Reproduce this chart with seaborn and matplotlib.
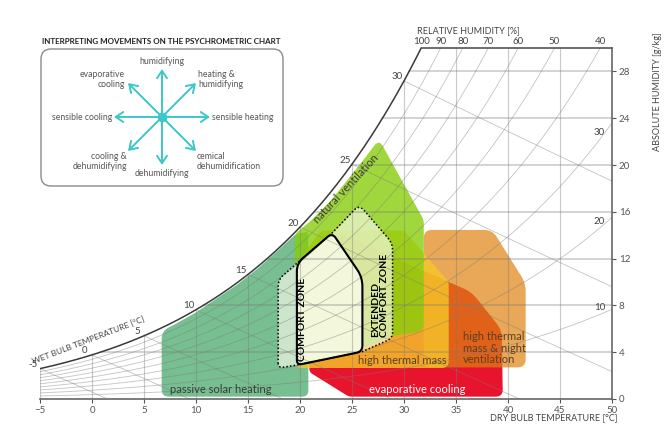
import numpy as np
import pandas as pd
import matplotlib
matplotlib.use("Agg")
import matplotlib.pyplot as plt
import seaborn as sns
from matplotlib.path import Path
from matplotlib.patches import PathPatch, FancyBboxPatch

# --- chart data -------------------------------------------------------------
dry_bulb_ticks = [-5, 0, 5, 10, 15, 20, 25, 30, 35, 40, 45, 50]
abs_hum_ticks = [0, 4, 8, 12, 16, 20, 24, 28]
rh_levels = [10, 20, 30, 40, 50, 60, 70, 80, 90]
top_rh_labels = [100, 90, 80, 70, 60, 50, 40]
side_rh_labels = [30, 20, 10]
wet_bulb_levels = [-5, 0, 5, 10, 15, 20, 25, 30]

# zones: dry bulb [°C] / absolute humidity [g/kg]
passive_T = [6.7, 20.8, 20.8, 19.6, 18.0, 16.0, 14.0, 12.0, 10.0, 8.0, 6.7]
passive_w = [0.2, 0.2, 14.3, 14.1, 12.8, 11.2, 9.8, 8.6, 7.4, 6.4, 5.8]
evap_T = [24.0, 34.3, 36.5, 39.4, 39.5, 24.7, 20.9, 20.9]
evap_w = [14.1, 10.0, 9.15, 5.9, 0.2, 0.2, 2.3, 10.5]
night_T = [31.9, 41.7, 41.7, 38.5, 31.9]
night_w = [2.7, 2.7, 9.9, 14.45, 14.45]
thermal_T = [19.7, 34.3, 34.3, 30.0, 22.0, 19.7]
thermal_w = [2.65, 2.65, 10.0, 14.4, 14.4, 11.6]
vent_T = [19.8, 25.6, 28.9, 31.9, 31.9, 27.6, 26.5, 25.0, 23.0, 21.0, 19.5, 19.5, 19.8]
vent_w = [3.0, 4.2, 5.4, 5.8, 15.3, 22.2, 20.9, 19.2, 17.0, 15.2, 14.1, 11.6, 11.4]
ext_T = [17.9, 19.7, 26.0, 28.9, 28.9, 25.7, 23.1, 19.7, 17.9]
ext_w = [2.65, 2.9, 4.05, 5.2, 13.3, 16.6, 14.2, 11.6, 10.2]
comfort_T = [19.7, 26.0, 26.0, 23.1, 19.7]
comfort_w = [2.9, 4.05, 10.4, 14.2, 11.6]

move_labels = ["humidifying", "heating &\nhumidifying", "sensible heating",
               "cemical\ndehumidification", "dehumidifying",
               "cooling &\ndehumidifying", "sensible cooling", "evaporative\ncooling"]
move_angles = [90, 45, 0, -45, -90, -135, 180, 135]

# --- psychrometrics ---------------------------------------------------------
P_ATM = 101.325


def p_sat(t):
    return 0.61078 * np.exp(17.27 * t / (t + 237.3))


def hum_ratio(t, rh):
    pv = rh * p_sat(t)
    return 622.0 * pv / (P_ATM - pv)


def wet_bulb_w(t, twb):
    ws = hum_ratio(twb, 1.0) / 1000.0
    return 1000.0 * ((2501 - 2.326 * twb) * ws - 1.006 * (t - twb)) / (2501 + 1.86 * t - 4.186 * twb)


T_GRID = np.linspace(-5, 50, 600)


def t_at_w(w, rh):
    return np.interp(w, hum_ratio(T_GRID, rh), T_GRID)


# --- figure -----------------------------------------------------------------
sns.set_theme(style="white")
plt.rcParams["font.family"] = ["Lato", "DejaVu Sans"]

W, H = 670, 447
fig = plt.figure(figsize=(W / 100, H / 100), dpi=100)
ax = fig.add_axes([40 / W, 48 / H, 572 / W, 351 / H])
ax.set_xlim(-5, 50)
ax.set_ylim(0, 30)
SX, SY = 572 / 55, 351 / 30


def round_poly(ts, ws, radius):
    pts = np.column_stack([np.asarray(ts) * SX, np.asarray(ws) * SY])
    n = len(pts)
    rads = np.broadcast_to(np.asarray(radius, float), (n,))
    verts, codes = [], []
    for i in range(n):
        p0, p1, p2 = pts[i - 1], pts[i], pts[(i + 1) % n]
        d1, d2 = p0 - p1, p2 - p1
        l1, l2 = np.hypot(*d1), np.hypot(*d2)
        r = min(rads[i], l1 / 2, l2 / 2)
        verts += [p1 + d1 / l1 * r, p1, p1 + d2 / l2 * r]
        codes += [Path.MOVETO if i == 0 else Path.LINETO, Path.CURVE3, Path.CURVE3]
    verts.append(verts[0])
    codes.append(Path.CLOSEPOLY)
    return Path(np.array(verts) / [SX, SY], codes)


def zone(ts, ws, radius, z, **kw):
    ax.add_patch(PathPatch(round_poly(ts, ws, radius), zorder=z, **kw))


zone(passive_T, passive_w, [7, 6, 2, 2, 2, 2, 2, 2, 2, 2, 8], 1.0, fc="#5fb47d", ec="none", alpha=0.85)
zone(evap_T, evap_w, [2, 3, 9, 8, 7, 3, 3, 3], 1.1, fc="#e8142d", ec="none")
zone(night_T, night_w, 8, 1.2, fc="#e08310", ec="none", alpha=0.7)
zone(thermal_T, thermal_w, [3, 7, 3, 3, 3, 3], 1.3, fc="#f5c62a", ec="none", alpha=0.81)
zone(vent_T, vent_w, [3, 3, 3, 7, 3, 8, 3, 3, 3, 3, 4, 3, 3], 1.4, fc="#88cd0b", ec="none", alpha=0.8)
zone(ext_T, ext_w, [5, 0, 0, 6, 7, 7, 0, 0, 7], 1.5, fc="#fafaeb", ec="none", alpha=0.65)
zone(comfort_T, comfort_w, [5, 6, 9, 6, 8], 1.6, fc="#f8fae6", ec="none", alpha=0.85)

# --- grid lines -------------------------------------------------------------
grid_c = "#7a7a7a"
rows = []
for t in dry_bulb_ticks[:-1]:
    top = min(hum_ratio(t, 1.0), 30)
    rows += [("v%s" % t, t, 0.0), ("v%s" % t, t, top)]
vert_df = pd.DataFrame(rows, columns=["line", "T", "w"])
sns.lineplot(data=vert_df, x="T", y="w", units="line", estimator=None, sort=False,
             color=grid_c, alpha=0.4, lw=0.8, ax=ax, zorder=2)

rows = []
for w in abs_hum_ticks[1:]:
    rows += [("h%s" % w, t_at_w(w, 1.0), w), ("h%s" % w, 50, w)]
hor_df = pd.DataFrame(rows, columns=["line", "T", "w"])
sns.lineplot(data=hor_df, x="T", y="w", units="line", estimator=None, sort=False,
             color=grid_c, alpha=0.35, lw=1.3, ax=ax, zorder=2)

rh_df = pd.concat([pd.DataFrame({"rh": r, "T": T_GRID, "w": hum_ratio(T_GRID, r / 100)})
                   for r in rh_levels])
rh_df = rh_df[rh_df["w"] < 34]
sns.lineplot(data=rh_df, x="T", y="w", units="rh", estimator=None,
             color=grid_c, alpha=0.45, lw=0.6, ax=ax, zorder=2)

wb_parts = []
for twb in wet_bulb_levels:
    tt = np.linspace(twb, 50, 200)
    wb_parts.append(pd.DataFrame({"wb": twb, "T": tt, "w": wet_bulb_w(tt, twb)}))
wb_df = pd.concat(wb_parts)
wb_df = wb_df[wb_df["w"] > -2]
sns.lineplot(data=wb_df, x="T", y="w", units="wb", estimator=None,
             color=grid_c, alpha=0.45, lw=0.6, ax=ax, zorder=2)

sat_df = pd.DataFrame({"T": T_GRID, "w": hum_ratio(T_GRID, 1.0)})
sns.lineplot(data=sat_df, x="T", y="w", color="#3a3a3a", lw=1.1, ax=ax, zorder=4)
ax.plot([t_at_w(30, 1.0), 50], [30, 30], color="#555555", lw=1.2, clip_on=False, zorder=4)

# zone outlines
ax.add_patch(PathPatch(round_poly(ext_T, ext_w, [5, 0, 0, 6, 7, 7, 0, 0, 7]), fc="none",
                       ec="black", lw=1.1, ls=(0, (1, 1.4)), zorder=4.5))
ax.add_patch(PathPatch(round_poly(comfort_T, comfort_w, [5, 6, 9, 6, 8]), fc="none",
                       ec="black", lw=1.5, zorder=4.6))

# axes styling
ax.set_xlabel("")
ax.set_ylabel("")
for side in ["left", "top"]:
    ax.spines[side].set_visible(False)
for side in ["right", "bottom"]:
    ax.spines[side].set_color("#666666")
    ax.spines[side].set_linewidth(1.2)
ax.set_xticks(dry_bulb_ticks)
ax.set_yticks(abs_hum_ticks)
ax.yaxis.tick_right()
ax.tick_params(axis="both", labelsize=7, colors="#555555", length=3, width=0.8, pad=2,
               bottom=True, right=True)

# --- chart texts ------------------------------------------------------------
txt = "#444444"
for t in wet_bulb_levels:
    ax.annotate(str(t), (t, hum_ratio(t, 1.0)), xytext=(-7, 4), textcoords="offset pixels",
                ha="center", va="center", fontsize=7, color=txt, zorder=6)
for r in top_rh_labels:
    ax.annotate(str(r), (t_at_w(30, r / 100), 30), xytext=(0, 7), textcoords="offset pixels",
                ha="center", va="center", fontsize=7, color=txt, annotation_clip=False)
for r in side_rh_labels:
    ax.annotate(str(r), (48.8, hum_ratio(48.8, r / 100)), xytext=(0, 7), textcoords="offset pixels",
                ha="center", va="center", fontsize=7, color=txt, zorder=6)

ax.text(-0.3, 5.05, "WET BULB TEMPERATURE [°C]", rotation=21, rotation_mode="anchor",
        ha="center", va="center", fontsize=6, color=txt)
fig.text(417 / W, 1 - 31 / H, "RELATIVE HUMIDITY [%]", ha="left", va="center", fontsize=6.5, color=txt)
fig.text(617 / W, 1 - 418 / H, "DRY BULB TEMPERATURE [°C]", ha="right", va="center", fontsize=6.5, color=txt)
fig.text(657 / W, 1 - 92 / H, "ABSOLUTE HUMIDITY [g/kg]", rotation=90, ha="center", va="center",
         fontsize=6.5, color=txt)

lab = "#3a3a3a"
ax.text(7.5, 0.85, "passive solar heating", ha="left", va="center", fontsize=8, color=lab, zorder=6)
ax.text(31.3, 0.85, "evaporative cooling", ha="center", va="center", fontsize=8, color="white", zorder=6)
ax.text(29.8, 3.3, "high thermal mass", ha="center", va="center", fontsize=8, color="#5a3f22", zorder=6)
ax.text(35.7, 4.35, "high thermal\nmass & night\nventilation", ha="left", va="center", fontsize=8,
        color="#5a3f22", linespacing=1.05, zorder=6)
ax.text(24.4, 18.0, "natural ventilation", rotation=47, rotation_mode="anchor", ha="center",
        va="center", fontsize=8, color=lab, zorder=6)
ax.text(20.2, 6.8, "COMFORT ZONE", rotation=90, ha="center", va="center", fontsize=7.5,
        fontweight="bold", color="black", zorder=6)
ax.text(27.7, 5.3, "EXTENDED\nCOMFORT ZONE", rotation=90, ha="center", va="bottom", fontsize=7.5,
        fontweight="bold", color="black", multialignment="left", linespacing=1.05, zorder=6)

# --- inset: movements on the chart -----------------------------------------
ins = fig.add_axes([0, 0, 1, 1], zorder=10)
ins.set_xlim(0, W)
ins.set_ylim(H, 0)
ins.axis("off")
ins.patch.set_visible(False)
ins.add_patch(FancyBboxPatch((41, 49), 242, 137, boxstyle="round,pad=0,rounding_size=10",
                             ec="#8a8a8a", fc="white", lw=1.0))
ins.text(161, 42, "INTERPRETING MOVEMENTS ON THE PSYCHROMETRIC CHART", ha="center", va="center",
         fontsize=5.8, fontweight="bold", color="#222222")

cyan = "#3cc8c8"
cx, cy, L = 162, 117, 48
label_layout = [((0, -3), "center", "bottom"), ((2, -4), "left", "center"), ((2, 0), "left", "center"),
                ((1, 11), "left", "center"), ((0, 4), "center", "top"), ((-1, 11), "right", "center"),
                ((-2, 0), "right", "center"), ((-3, -4), "right", "center")]
for name, ang, ((dx, dy), ha, va) in zip(move_labels, move_angles, label_layout):
    a = np.radians(ang)
    ex, ey = cx + L * np.cos(a), cy - L * np.sin(a)
    ins.annotate("", xy=(ex, ey), xytext=(cx, cy),
                 arrowprops=dict(arrowstyle="->,head_length=0.45,head_width=0.3", color=cyan,
                                 lw=1.4, shrinkA=0, shrinkB=0))
    ins.text(ex + dx, ey + dy, name, ha=ha, va=va, fontsize=6.2, color="#555555",
             multialignment=ha if ha != "center" else "center", linespacing=1.15)
ins.plot([cx], [cy], marker="o", ms=6, color=cyan)

fig.savefig("out.png", dpi=100)
